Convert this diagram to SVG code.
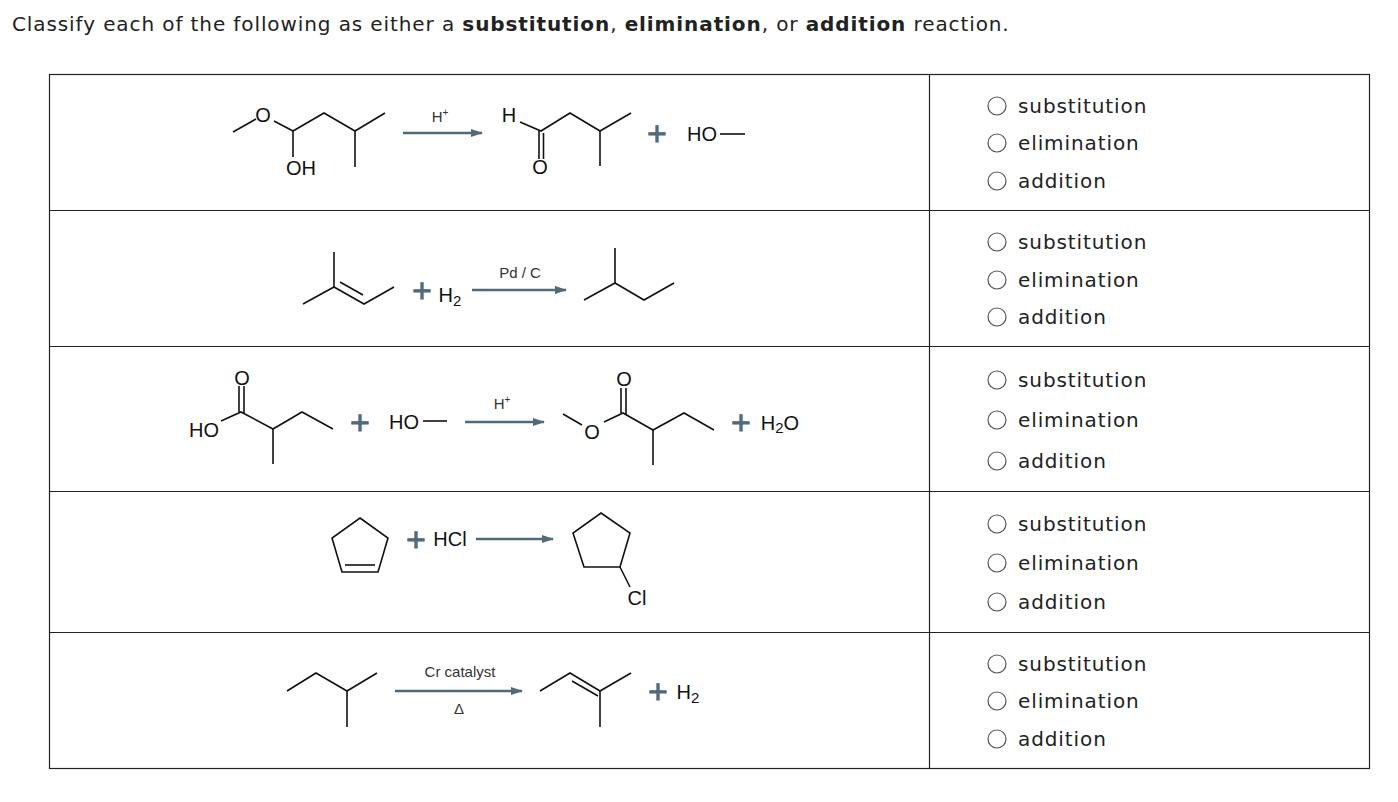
<svg xmlns="http://www.w3.org/2000/svg" width="1398" height="802" viewBox="0 0 1398 802">
<defs>
<marker id="ah" markerWidth="12" markerHeight="8" refX="11" refY="4" orient="auto" markerUnits="userSpaceOnUse"><path d="M0,0 L12,4 L0,8 Z" fill="#4f6b7a"/></marker>
</defs>
<style>
.b{stroke:#111;stroke-width:1.6;fill:none}
.t{font-family:"Liberation Sans",Arial,sans-serif;font-size:20px;fill:#111;text-anchor:middle}
.s{font-family:"Liberation Sans",Arial,sans-serif;font-size:15px;fill:#333;text-anchor:middle}
.p{font-family:"Liberation Sans",Arial,sans-serif;font-size:34px;fill:#4f6b7a;text-anchor:middle;stroke:#4f6b7a;stroke-width:0.8}
.a{stroke:#4f6b7a;stroke-width:2.6;fill:none}
.r{fill:#fff;stroke:#555;stroke-width:1.2}
.o{font-family:"DejaVu Sans",Verdana,sans-serif;font-size:20px;fill:#222;letter-spacing:0.9px}
.g{stroke:#222;stroke-width:1.2;fill:none}
</style>
<rect width="1398" height="802" fill="#fff"/>
<text x="12" y="31" class="o" letter-spacing="1.6px">Classify each of the following as either a <tspan font-weight="bold">substitution</tspan>, <tspan font-weight="bold">elimination</tspan>, or <tspan font-weight="bold">addition</tspan> reaction.</text>
<g id="table">
<rect x="49.5" y="74.5" width="1320" height="694" class="g"/>
<line x1="929.5" y1="74" x2="929.5" y2="768" class="g"/>
<line x1="49" y1="210.5" x2="1369" y2="210.5" class="g"/>
<line x1="49" y1="346.5" x2="1369" y2="346.5" class="g"/>
<line x1="49" y1="491.5" x2="1369" y2="491.5" class="g"/>
<line x1="49" y1="632.5" x2="1369" y2="632.5" class="g"/>
</g>
<g id="options">
<circle cx="997" cy="106" r="9" class="r"/><text x="1018" y="113" class="o">substitution</text>
<circle cx="997" cy="143" r="9" class="r"/><text x="1018" y="150" class="o">elimination</text>
<circle cx="997" cy="181" r="9" class="r"/><text x="1018" y="188" class="o">addition</text>
<circle cx="997" cy="242" r="9" class="r"/><text x="1018" y="249" class="o">substitution</text>
<circle cx="997" cy="280" r="9" class="r"/><text x="1018" y="287" class="o">elimination</text>
<circle cx="997" cy="317" r="9" class="r"/><text x="1018" y="324" class="o">addition</text>
<circle cx="997" cy="380" r="9" class="r"/><text x="1018" y="387" class="o">substitution</text>
<circle cx="997" cy="420" r="9" class="r"/><text x="1018" y="427" class="o">elimination</text>
<circle cx="997" cy="461" r="9" class="r"/><text x="1018" y="468" class="o">addition</text>
<circle cx="997" cy="524" r="9" class="r"/><text x="1018" y="531" class="o">substitution</text>
<circle cx="997" cy="563" r="9" class="r"/><text x="1018" y="570" class="o">elimination</text>
<circle cx="997" cy="602" r="9" class="r"/><text x="1018" y="609" class="o">addition</text>
<circle cx="997" cy="664" r="9" class="r"/><text x="1018" y="671" class="o">substitution</text>
<circle cx="997" cy="701" r="9" class="r"/><text x="1018" y="708" class="o">elimination</text>
<circle cx="997" cy="739" r="9" class="r"/><text x="1018" y="746" class="o">addition</text>
</g>
<g id="reaction1">
<polyline points="233,132 256,119" class="b"/>
<text x="263" y="122" class="t">O</text>
<polyline points="274,121 293,131 324,113 355,131 385,113" class="b"/>
<line x1="355" y1="131" x2="355" y2="167" class="b"/>
<line x1="293" y1="131" x2="293" y2="157" class="b"/>
<text x="301" y="175" class="t">OH</text>
<text x="440" y="122" class="s">H<tspan dy="-6" font-size="10">+</tspan></text>
<text x="509" y="122" class="t">H</text>
<polyline points="520,122 541,131 570,113 600,131 631,113" class="b"/>
<line x1="600" y1="131" x2="600" y2="166" class="b"/>
<line x1="539" y1="131" x2="539" y2="159" class="b"/>
<line x1="543.5" y1="133" x2="543.5" y2="159" class="b"/>
<text x="540" y="174" class="t">O</text>
<text x="657" y="145" class="p">+</text>
<text x="702" y="141" class="t">HO</text>
<line x1="720" y1="134" x2="745" y2="134" class="b"/>
</g>
<g id="reaction2">
<polyline points="303,304 334,287 364,304 394,287" class="b"/>
<line x1="334" y1="287" x2="334" y2="252" class="b"/>
<line x1="340" y1="282" x2="363" y2="295" class="b"/>
<text x="422" y="302" class="p">+</text>
<text x="450" y="302" class="t">H<tspan dy="4" font-size="15">2</tspan></text>
<text x="520" y="278" class="s">Pd / C</text>
<polyline points="584,300 615,283 644,300 674,283" class="b"/>
<line x1="615" y1="283" x2="615" y2="248" class="b"/>
</g>
<g id="reaction3">
<text x="204" y="437" class="t">HO</text>
<polyline points="221,421 241,412 273,429 302,412 333,429" class="b"/>
<line x1="239" y1="412" x2="239" y2="386" class="b"/>
<line x1="244" y1="413" x2="244" y2="386" class="b"/>
<text x="242" y="385" class="t">O</text>
<line x1="273" y1="429" x2="273" y2="464" class="b"/>
<text x="360" y="434" class="p">+</text>
<text x="404" y="429" class="t">HO</text>
<line x1="423" y1="421" x2="447" y2="421" class="b"/>
<text x="502" y="409" class="s">H<tspan dy="-6" font-size="10">+</tspan></text>
<line x1="563" y1="414" x2="582" y2="425" class="b"/>
<text x="592" y="439" class="t">O</text>
<polyline points="604,422 623,413 653,430 684,413 714,430" class="b"/>
<line x1="621" y1="413" x2="621" y2="388" class="b"/>
<line x1="626" y1="414" x2="626" y2="388" class="b"/>
<text x="624" y="386" class="t">O</text>
<line x1="653" y1="430" x2="653" y2="465" class="b"/>
<text x="741" y="434" class="p">+</text>
<text x="780" y="430" class="t">H<tspan font-size="15" dy="3">2</tspan><tspan dy="-3">O</tspan></text>
</g>
<g id="reaction4">
<polygon points="360,518 388,538 378,572 342,572 332,538" class="b"/>
<line x1="345" y1="565" x2="375" y2="565" class="b"/>
<text x="416" y="551" class="p">+</text>
<text x="450" y="546" class="t">HCl</text>
<polygon points="601,513 630,533 620,567 584,567 573,533" class="b"/>
<line x1="620" y1="567" x2="630" y2="587" class="b"/>
<text x="637" y="605" class="t">Cl</text>
</g>
<g id="reaction5">
<polyline points="287,691 316,673 347,691 377,673" class="b"/>
<line x1="347" y1="691" x2="347" y2="727" class="b"/>
<text x="460" y="677" class="s">Cr catalyst</text>
<text x="459" y="714" class="s">Δ</text>
<polyline points="540,691 570,673 600,691 631,673" class="b"/>
<line x1="572" y1="681" x2="598" y2="696" class="b"/>
<line x1="600" y1="691" x2="600" y2="727" class="b"/>
<text x="658" y="703" class="p">+</text>
<text x="688" y="699" class="t">H<tspan dy="4" font-size="15">2</tspan></text>
</g>
<g id="connectors">
<line x1="403" y1="133" x2="482" y2="133" class="a" marker-end="url(#ah)"/>
<line x1="472" y1="290" x2="566" y2="290" class="a" marker-end="url(#ah)"/>
<line x1="465" y1="422" x2="544" y2="422" class="a" marker-end="url(#ah)"/>
<line x1="476" y1="539" x2="553" y2="539" class="a" marker-end="url(#ah)"/>
<line x1="395" y1="691" x2="522" y2="691" class="a" marker-end="url(#ah)"/>
</g>
</svg>
